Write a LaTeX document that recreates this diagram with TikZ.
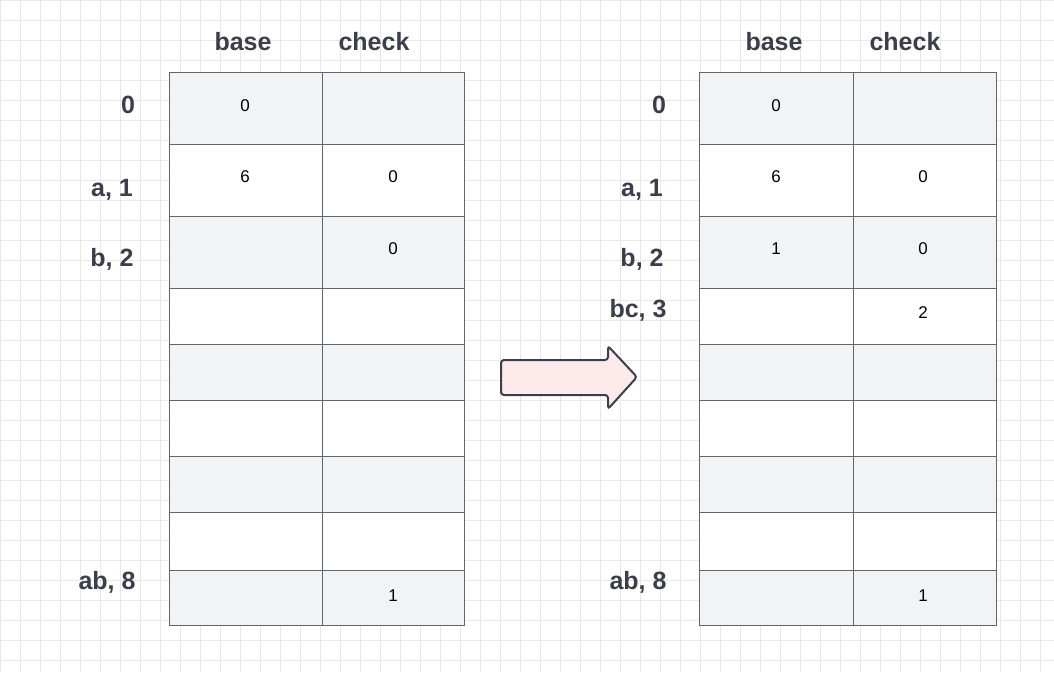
\documentclass[tikz,border=0pt]{standalone}
\usepackage{fontspec}
\setmainfont{Liberation Sans}
\usetikzlibrary{shapes.arrows}
\definecolor{shade}{HTML}{F2F3F5}
\definecolor{ink}{HTML}{3A3F4B}
\definecolor{gridc}{HTML}{E8E8E8}
\definecolor{pinkf}{HTML}{FDEBEB}
\tikzset{
  lbl/.style={font=\bfseries\fontsize{25}{28}\selectfont, text=ink},
  val/.style={font=\fontsize{17}{19}\selectfont, text=black},
  cellw/.style={draw=ink!80, line width=0.6pt, fill=white},
  cellg/.style={draw=ink!80, line width=0.6pt, fill=shade},
}
\begin{document}
\begin{tikzpicture}[x=1pt,y=-1pt]
\useasboundingbox (0,0) rectangle (1054,672);
\fill[white] (0,0) rectangle (1054,672);
\foreach \g in {0,20,...,1060}{\draw[gridc, line width=0.5pt] (\g,0) -- (\g,672);}
\foreach \g in {0,20,...,680}{\draw[gridc, line width=0.5pt] (0,\g) -- (1054,\g);}
\def\rows{72/144/g,144/216/w,216/288/g,288/344/w,344/400/g,400/456/w,456/512/g,512/570/w,570/625/g}
\foreach \xa/\xm/\xb in {169/322/464,699/853/996}{
  \foreach \ya/\yb/\c in \rows{
    \draw[cell\c] (\xa,\ya) rectangle (\xm,\yb);
    \draw[cell\c] (\xm,\ya) rectangle (\xb,\yb);
  }
}
% headers
\node[lbl] (hb1) at (243,42) {base};
\node[lbl] (hc1) at (374,42) {check};
\node[lbl] (hb2) at (774,42) {base};
\node[lbl] (hc2) at (905,42) {check};
% row labels left
\node[lbl] (l0) at (128,105) {0};
\node[lbl] (l1) at (112,190) {a, 1};
\node[lbl] (l2) at (112,259) {b, 2};
\node[lbl] (l8) at (107,582) {ab, 8};
% row labels right
\node[lbl] (r0) at (659,105) {0};
\node[lbl] (r1) at (642,190) {a, 1};
\node[lbl] (r2) at (642,259) {b, 2};
\node[lbl] (r3) at (638,310) {bc, 3};
\node[lbl] (r8) at (638,582) {ab, 8};
% values left
\node[val] (v1) at (245,106) {0};
\node[val] (v2) at (245,177) {6};
\node[val] (v3) at (393,177) {0};
\node[val] (v4) at (393,249) {0};
\node[val] (v5) at (393,596) {1};
% values right
\node[val] (w1) at (776,106) {0};
\node[val] (w2) at (776,177) {6};
\node[val] (w3) at (923,177) {0};
\node[val] (w4) at (776,249) {1};
\node[val] (w5) at (923,249) {0};
\node[val] (w6) at (923,313) {2};
\node[val] (w7) at (923,596) {1};
% arrow
\draw[fill=pinkf, draw=ink, line width=2pt, rounded corners=3pt]
  (501,360) -- (608,360) -- (608,346) -- (637,377) -- (608,409) -- (608,395) -- (501,395) -- cycle;
\end{tikzpicture}
\end{document}
